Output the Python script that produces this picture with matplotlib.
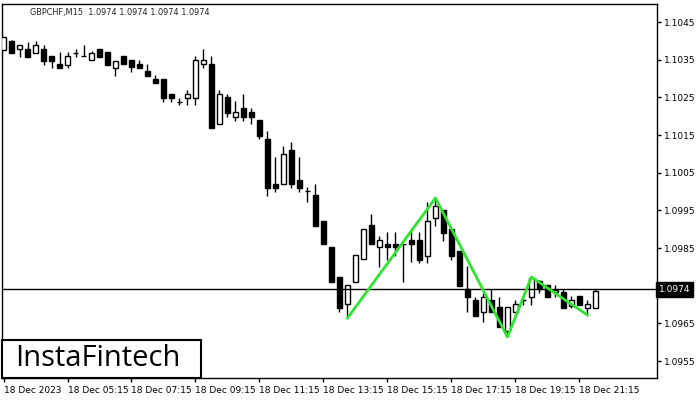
import numpy as np
import matplotlib
matplotlib.use("Agg")
import matplotlib.pyplot as plt
from matplotlib.patches import Rectangle
import matplotlib.transforms as mtransforms

title = "GBPCHF,M15  1.0974 1.0974 1.0974 1.0974"

opens = [1.10376, 1.10400, 1.10378, 1.10378, 1.10368, 1.10378, 1.10360, 1.10339, 1.10336, 1.10368,
         1.10360, 1.10349, 1.10378, 1.10370, 1.10328, 1.10360, 1.10349, 1.10339, 1.10320, 1.10299,
         1.10299, 1.10259, 1.10238, 1.10248, 1.10248, 1.10339, 1.10339, 1.10179, 1.10251, 1.10198,
         1.10222, 1.10211, 1.10190, 1.10139, 1.10020, 1.10020, 1.10110, 1.10031, 1.10001, 1.09991,
         1.09922, 1.09853, 1.09773, 1.09701, 1.09760, 1.09821, 1.09911, 1.09853, 1.09861, 1.09861,
         1.09861, 1.09871, 1.09871, 1.09829, 1.09930, 1.09951, 1.09900, 1.09842, 1.09741, 1.09712,
         1.09680, 1.09712, 1.09693, 1.09630, 1.09680, 1.09712, 1.09720, 1.09762, 1.09752, 1.09733,
         1.09733, 1.09696, 1.09723, 1.09691, 1.09691]
highs = [1.10410, 1.10402, 1.10389, 1.10397, 1.10400, 1.10389, 1.10360, 1.10370, 1.10370, 1.10378,
         1.10389, 1.10373, 1.10378, 1.10370, 1.10347, 1.10360, 1.10349, 1.10349, 1.10339, 1.10309,
         1.10299, 1.10259, 1.10248, 1.10270, 1.10360, 1.10378, 1.10360, 1.10270, 1.10259, 1.10240,
         1.10259, 1.10222, 1.10190, 1.10161, 1.10092, 1.10121, 1.10131, 1.10092, 1.10012, 1.10020,
         1.09922, 1.09853, 1.09773, 1.09752, 1.09831, 1.09900, 1.09940, 1.09882, 1.09893, 1.09893,
         1.09862, 1.09900, 1.09893, 1.09972, 1.09983, 1.09951, 1.09900, 1.09842, 1.09802, 1.09720,
         1.09731, 1.09741, 1.09720, 1.09693, 1.09712, 1.09720, 1.09773, 1.09765, 1.09752, 1.09752,
         1.09741, 1.09723, 1.09723, 1.09712, 1.09741]
lows = [1.10376, 1.10368, 1.10357, 1.10357, 1.10368, 1.10336, 1.10328, 1.10328, 1.10328, 1.10357,
        1.10359, 1.10349, 1.10357, 1.10336, 1.10307, 1.10339, 1.10317, 1.10328, 1.10307, 1.10288,
        1.10238, 1.10238, 1.10230, 1.10230, 1.10230, 1.10328, 1.10169, 1.10179, 1.10198, 1.10187,
        1.10187, 1.10179, 1.10139, 1.09988, 1.09999, 1.10020, 1.10009, 1.09999, 1.09972, 1.09908,
        1.09861, 1.09760, 1.09680, 1.09664, 1.09760, 1.09821, 1.09861, 1.09800, 1.09818, 1.09829,
        1.09760, 1.09813, 1.09810, 1.09810, 1.09908, 1.09869, 1.09818, 1.09749, 1.09680, 1.09669,
        1.09654, 1.09680, 1.09640, 1.09614, 1.09680, 1.09699, 1.09699, 1.09731, 1.09720, 1.09720,
        1.09691, 1.09691, 1.09699, 1.09675, 1.09691]
closes = [1.10410, 1.10368, 1.10389, 1.10357, 1.10389, 1.10347, 1.10347, 1.10328, 1.10360, 1.10368,
          1.10360, 1.10368, 1.10357, 1.10336, 1.10347, 1.10339, 1.10331, 1.10328, 1.10307, 1.10288,
          1.10248, 1.10248, 1.10238, 1.10259, 1.10349, 1.10349, 1.10169, 1.10259, 1.10208, 1.10211,
          1.10198, 1.10198, 1.10147, 1.10009, 1.10009, 1.10100, 1.10020, 1.10009, 1.10001, 1.09908,
          1.09861, 1.09760, 1.09691, 1.09752, 1.09831, 1.09900, 1.09861, 1.09871, 1.09853, 1.09853,
          1.09861, 1.09861, 1.09818, 1.09922, 1.09962, 1.09890, 1.09829, 1.09749, 1.09720, 1.09669,
          1.09720, 1.09680, 1.09640, 1.09693, 1.09701, 1.09712, 1.09770, 1.09741, 1.09720, 1.09739,
          1.09691, 1.09712, 1.09699, 1.09701, 1.09737]

last_price = 1.0974
pattern_bars = [43, 54, 63, 66, 73]
pattern_prices = [1.09664, 1.09983, 1.09614, 1.09773, 1.09672]

yticks = [1.0955, 1.0965, 1.0975, 1.0985, 1.0995, 1.1005, 1.1015, 1.1025, 1.1035, 1.1045]
xtick_bars = [0, 8, 16, 24, 32, 40, 48, 56, 64, 72]
xtick_labels = ["18 Dec 2023", "18 Dec 05:15", "18 Dec 07:15", "18 Dec 09:15", "18 Dec 11:15",
                "18 Dec 13:15", "18 Dec 15:15", "18 Dec 17:15", "18 Dec 19:15", "18 Dec 21:15"]

W, H = 700, 400
fig = plt.figure(figsize=(7, 4), dpi=100)
ax = fig.add_axes([2 / W, 1 - 378 / H, (657 - 2) / W, (378 - 4) / H])

n = len(opens)
idx = np.arange(n)
o = np.array(opens); c = np.array(closes); h = np.array(highs); l = np.array(lows)

ax.vlines(idx, l, h, color="black", lw=1, zorder=2)
bull = c > o
bear = c < o
doji = c == o
bw = 0.6
ax.bar(idx[bull], (c - o)[bull], bottom=o[bull], width=bw, facecolor="white",
       edgecolor="black", lw=1, zorder=3)
ax.bar(idx[bear], (o - c)[bear], bottom=c[bear], width=bw, facecolor="black",
       edgecolor="black", lw=1, zorder=3)
ax.hlines(o[doji], idx[doji] - bw / 2, idx[doji] + bw / 2, color="black", lw=1, zorder=3)

ax.plot(pattern_bars, pattern_prices, color="#2ee52e", lw=2, zorder=5)
ax.axhline(last_price, color="black", lw=1, zorder=4)

ax.set_xlim(-0.19, 81.7)
ax.set_ylim(1.09505, 1.10498)

ax.yaxis.tick_right()
ax.set_yticks(yticks)
ax.set_yticklabels([f"{v:.4f}" for v in yticks])
ax.set_xticks(xtick_bars)
ax.set_xticklabels(xtick_labels)
for lbl in ax.get_xticklabels():
    lbl.set_ha("left")
    lbl.set_fontsize(6.1)
ax.tick_params(axis="both", direction="out", length=3, width=1, labelsize=6.5,
               colors="black", pad=2)
ax.tick_params(axis="x", pad=3)
for s in ax.spines.values():
    s.set_color("black")
    s.set_linewidth(1)

trans = mtransforms.blended_transform_factory(ax.transAxes, ax.transData)
ax.text(1.003, last_price, f"{last_price:.4f}", transform=trans, color="white",
        fontsize=6.5, va="center", ha="left", zorder=10,
        bbox=dict(facecolor="black", edgecolor="black", boxstyle="square,pad=0.3"))

fig.text(30 / W, 1 - 12 / H, title, fontsize=5.9, color="#222222", va="center", ha="left")

fig.patches.append(Rectangle((2 / W, 1 - 378 / H), 199 / W, 38 / H, transform=fig.transFigure,
                             facecolor="white", edgecolor="black", lw=1.5, zorder=20))
fig.text(98 / W, 1 - 359 / H, "InstaFintech", fontsize=21, family="Open Sans",
         color="black", ha="center", va="center", zorder=21)

fig.savefig("out.png", dpi=100)
